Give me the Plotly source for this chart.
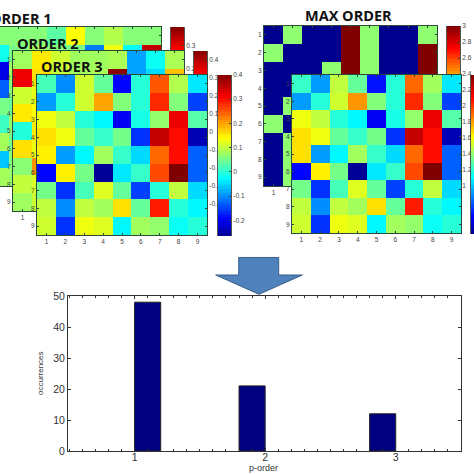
import numpy as np
import plotly.graph_objects as go

W, H = 474, 474

jet = [[0, "#00008f"], [0.11, "#0000ff"], [0.36, "#00ffff"], [0.485, "#80ff80"],
       [0.61, "#ffff00"], [0.86, "#ff0000"], [1, "#800000"]]

cells = [1, 2, 3, 4, 5, 6, 7, 8, 9]

order1_values = [
    [.03, .03, .03, .00, .11, .03, .06, .03, .03],
    [-.05, .02, .05, .03, .02, -.15, .10, -.06, .33],
    [-.25, .05, .02, .03, .05, .02, .03, .08, .20],
    [-.17, .03, .06, .02, .01, .05, .02, .10, .18],
    [.02, .01, .03, .05, .04, .02, .06, .12, .15],
    [-.02, .04, .01, .02, .03, .06, .04, .09, .13],
    [.05, .02, .04, .01, .05, .03, .02, .05, .10],
    [-.10, .03, .02, .06, .02, .04, .01, .06, .08],
    [.05, .04, .03, .02, .03, .02, .05, .04, .05],
]
order2_values = [
    [.02, .12, .06, .02, .02, .03, -.20, -.11, .03],
    [.34, .13, .05, .02, .03, .44, -.20, -.15, .16],
    [.06, .08, .03, .02, .02, .04, .02, .05, .10],
    [.12, .10, .04, .03, .01, .02, .03, .08, .12],
    [-.09, .12, .02, .01, .03, .02, .05, .10, .08],
    [.13, .09, .03, .02, .02, .01, .06, .14, .05],
    [.00, .20, .05, .03, .01, .02, .03, .07, .02],
    [.05, .07, .02, .04, .03, .02, .01, .04, .03],
    [.02, .06, .03, .02, .04, .03, .02, .03, .02],
]
order3_values = [
    [.02, -.10, .11, .04, -.19, .00, .25, .09, -.04],
    [-.09, .00, .11, .20, .06, .00, .28, .06, -.15],
    [.13, .10, .00, -.03, -.20, -.01, .07, .32, .03],
    [.16, .13, .04, .01, .05, -.16, .35, .30, -.24],
    [.15, -.09, -.03, .08, .01, -.05, .24, .30, -.13],
    [-.19, .15, .05, -.26, -.04, .01, .26, .40, -.13],
    [.05, -.16, .02, .12, .04, -.15, .00, .10, -.05],
    [.10, -.10, .10, .08, .16, .04, .29, .00, -.03],
    [.11, -.16, .13, .12, -.03, .08, .07, -.02, .00],
]
max_order_values = [
    [1, 2, 1, 1, 3, 2, 1, 1, 2],
    [2, 1, 1, 1, 3, 2, 1, 1, 3],
    [1, 1, 1, 2, 3, 2, 1, 1, 3],
    [1, 1, 1, 1, 1, 1, 1, 1, 1],
    [1, 2, 1, 1, 1, 1, 1, 1, 1],
    [2, 1, 1, 1, 1, 1, 1, 1, 1],
    [1, 2, 1, 1, 1, 1, 1, 1, 1],
    [1, 2, 1, 1, 1, 1, 1, 1, 1],
    [1, 2, 1, 1, 1, 1, 1, 1, 1],
]
max_front_values = [
    [.01, -.09, .10, .04, -.18, .00, .24, .08, -.04],
    [-.09, .00, .11, .21, .06, .00, .28, .06, -.15],
    [.13, .10, .00, -.03, -.20, -.01, .07, .32, .03],
    [.16, .13, .04, .01, .05, -.16, .35, .30, -.24],
    [.16, -.09, -.03, .08, .01, -.05, .24, .30, -.13],
    [-.19, .15, .05, -.26, -.04, .01, .26, .40, -.13],
    [.05, -.16, .02, .12, .04, -.15, .00, .10, -.05],
    [.10, -.10, .10, .08, .16, .04, .29, .00, -.03],
    [.11, -.16, .13, .12, -.03, .08, .07, -.02, .00],
]

order1_ticks = [.3, .2, .1, 0, -.1, -.2, -.3]
order2_ticks = [.4, .3, .2, .1, 0, -.1, -.2, -.3, -.4]
order3_ticks = [.4, .3, .2, .1, 0, -.1, -.2]
max_ticks = [3, 2.8, 2.6, 2.4, 2.2, 2, 1.8, 1.6, 1.4, 1.2, 1]

p_order = [1.1, 1.9, 2.9]
occurrences = [48, 21, 12]
p_ticks = [1, 2, 3]
occ_ticks = [0, 10, 20, 30, 40, 50]

INK = "#333333"
FRAME = "#2c4a3a"
SMALL = dict(family="Liberation Sans", size=6.5, color="#444444")

fig = go.Figure()
layout = {}
counter = [0]


def next_axes():
    counter[0] += 1
    n = counter[0]
    s = "" if n == 1 else str(n)
    return s, "x" + s, "y" + s, "xaxis" + s, "yaxis" + s


def dom_x(a, b):
    return [max(a, 0) / W, min(b, W) / W]


def dom_y(top, bottom):
    return [1 - bottom / H, 1 - top / H]


def matrix(z, zmin, zmax, left, right, top, bottom, xstart=0.5, left_labels=True):
    s, xr, yr, xk, yk = next_axes()
    fig.add_trace(go.Heatmap(z=z, x=cells, y=cells, zmin=zmin, zmax=zmax, colorscale=jet,
                             showscale=False, xaxis=xr, yaxis=yr, hoverinfo="skip"))
    layout[xk] = dict(domain=dom_x(left, right), range=[xstart, 9.5], anchor=yr, side="bottom",
                      tickvals=cells, ticks="inside", ticklen=2, tickcolor=FRAME, tickfont=SMALL,
                      showgrid=False, zeroline=False, showline=True, linecolor=FRAME, linewidth=1,
                      mirror="ticks", fixedrange=True)
    layout[yk] = dict(domain=dom_y(top, bottom), range=[9.5, 0.5], anchor=xr,
                      side="left" if left_labels else "right",
                      tickvals=cells, ticks="inside", ticklen=2, tickcolor=FRAME, tickfont=SMALL,
                      showticklabels=left_labels,
                      showgrid=False, zeroline=False, showline=True, linecolor=FRAME, linewidth=1,
                      mirror="ticks" if left_labels else False, fixedrange=True)


def colorbar(zmin, zmax, ticks, left, right, top, bottom):
    s, xr, yr, xk, yk = next_axes()
    ramp = np.linspace(zmin, zmax, 64).tolist()
    fig.add_trace(go.Heatmap(z=[[v] for v in ramp], x=[0], y=ramp, zmin=zmin, zmax=zmax,
                             colorscale=jet, showscale=False, xaxis=xr, yaxis=yr, hoverinfo="skip"))
    layout[xk] = dict(domain=dom_x(left, right), range=[-0.5, 0.5], anchor=yr, visible=False,
                      fixedrange=True)
    layout[yk] = dict(domain=dom_y(top, bottom), range=[zmin, zmax], anchor=xr, side="right",
                      tickvals=ticks, ticktext=[f"{t:g}" for t in ticks], ticks="inside", ticklen=2,
                      tickcolor=FRAME, tickfont=SMALL, showgrid=False, zeroline=False,
                      showline=True, linecolor="#555555", linewidth=1, mirror=True, fixedrange=True)


# Stack is painted back to front
colorbar(-.31, .38, order1_ticks, 171, 184, 27, 186)
matrix(order1_values, -.31, .38, 0, 161, 27, 186, xstart=1.026, left_labels=False)
colorbar(-.44, .45, order2_ticks, 194, 207, 51, 211)
matrix(order2_values, -.44, .45, 13, 184, 51, 211)
colorbar(-.265, .4, order3_ticks, 218, 231, 75, 236)
matrix(order3_values, -.265, .4, 37, 207, 75, 235)
colorbar(1, 3, max_ticks, 447, 460, 26, 186)
matrix(max_order_values, 1, 3, 264, 437, 26, 186)
colorbar(-.265, .4, [], 471, 484, 75, 234)
matrix(max_front_values, -.265, .4, 292, 461, 75, 233)

# Bar chart
s, xr, yr, xk, yk = next_axes()
fig.add_trace(go.Bar(x=p_order, y=occurrences, width=0.2, marker=dict(color="#000080", line=dict(color="#222222", width=1)),
                     xaxis=xr, yaxis=yr, hoverinfo="skip"))
BIG = dict(family="Liberation Sans", size=10.5, color="#333333")
layout[xk] = dict(domain=dom_x(68, 461), range=[0.49, 3.5], anchor=yr, tickvals=p_ticks, ticks="inside",
                  ticklen=3, tickcolor=INK, tickfont=BIG, showgrid=False, zeroline=False, showline=True,
                  linecolor=INK, linewidth=1, mirror="ticks", fixedrange=True, ticklabelstandoff=-4,
                  minor=dict(dtick=0.1, ticks="inside", ticklen=2, tickcolor=INK, showgrid=False))
layout[yk] = dict(domain=dom_y(296, 451), range=[0, 50], anchor=xr, tickvals=occ_ticks, ticks="inside",
                  ticklen=3, tickcolor=INK, tickfont=BIG, showgrid=False, zeroline=False, showline=True,
                  linecolor=INK, linewidth=1, mirror="ticks", fixedrange=True)

TITLE = dict(family="Open Sans", size=14.5, color="#111111")


def label(text, x, y, font=TITLE, xanchor="center", angle=0):
    return dict(text=text, x=x / W, y=1 - y / H, xref="paper", yref="paper", showarrow=False,
                font=font, xanchor=xanchor, yanchor="middle", textangle=angle)


annotations = [
    label("<b>ORDER 1</b>", 54, 19, xanchor="right"),
    label("<b>ORDER 2</b>", 47.5, 43),
    label("<b>ORDER 3</b>", 71.5, 67),
    label("<b>MAX ORDER</b>", 348, 15.5),
    label("p-order", 263, 468, dict(family="Liberation Sans", size=9, color="#333333")),
    label("occurrences", 40, 373, dict(family="Liberation Sans", size=8, color="#333333"), angle=-90),
]

arrow = ("M{:.4f},{:.4f} L{:.4f},{:.4f} L{:.4f},{:.4f} L{:.4f},{:.4f} L{:.4f},{:.4f} "
         "L{:.4f},{:.4f} L{:.4f},{:.4f} Z").format(*[v for px, py in
    [(238.7, 257.5), (278.7, 257.5), (278.7, 275), (302.3, 275), (259, 294.3), (215.7, 275), (238.7, 275)]
    for v in (px / W, 1 - py / H)])

fig.update_layout(
    width=W, height=H, margin=dict(l=0, r=0, t=0, b=0, pad=0, autoexpand=False), autosize=False,
    paper_bgcolor="white", plot_bgcolor="white", showlegend=False,
    annotations=annotations,
    shapes=[dict(type="path", path=arrow, xref="paper", yref="paper", layer="above",
                 fillcolor="#4f81bd", line=dict(color="#385d8a", width=1))],
    **layout,
)

fig.write_html("out.html", config=dict(displayModeBar=False),
               post_script="document.body.style.margin='0';document.documentElement.style.overflow='hidden';")
